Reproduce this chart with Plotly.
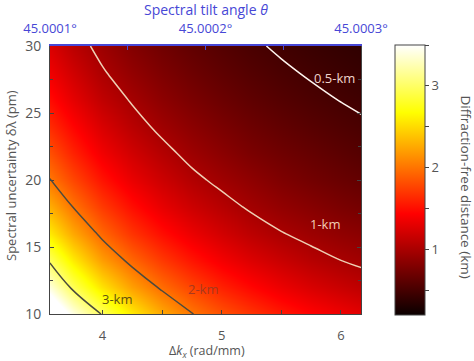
import plotly.graph_objects as go

# Delta k_x (rad/mm) grid positions
dk = [3.56, 3.75, 4.0, 4.25, 4.5, 4.75, 5.0, 5.25, 5.5, 5.75, 6.0, 6.17]
# spectral uncertainty (pm)
dlam = [10, 12, 14, 16, 18, 20, 22, 24, 26, 28, 30]
row10 = [3.84, 3.42, 2.98, 2.58, 2.26, 2.01, 1.83, 1.69, 1.56, 1.45, 1.36, 1.30]
row12 = [3.38, 2.95, 2.54, 2.21, 1.96, 1.76, 1.59, 1.46, 1.34, 1.24, 1.16, 1.11]
row14 = [2.96, 2.58, 2.20, 1.93, 1.71, 1.53, 1.38, 1.26, 1.16, 1.07, 1.00, 0.96]
row16 = [2.58, 2.26, 1.94, 1.69, 1.50, 1.34, 1.21, 1.10, 1.01, 0.94, 0.88, 0.85]
row18 = [2.28, 2.00, 1.72, 1.50, 1.32, 1.18, 1.07, 0.97, 0.89, 0.83, 0.77, 0.74]
row20 = [2.01, 1.78, 1.53, 1.33, 1.18, 1.05, 0.95, 0.87, 0.79, 0.73, 0.68, 0.65]
row22 = [1.82, 1.60, 1.37, 1.20, 1.06, 0.94, 0.85, 0.77, 0.71, 0.66, 0.61, 0.58]
row24 = [1.64, 1.45, 1.24, 1.08, 0.95, 0.85, 0.766, 0.697, 0.639, 0.590, 0.548, 0.523]
row26 = [1.49, 1.31, 1.12, 0.98, 0.86, 0.769, 0.693, 0.630, 0.577, 0.533, 0.495, 0.472]
row28 = [1.36, 1.20, 1.02, 0.89, 0.785, 0.700, 0.630, 0.573, 0.524, 0.484, 0.449, 0.428]
row30 = [1.25, 1.09, 0.94, 0.81, 0.717, 0.639, 0.575, 0.522, 0.478, 0.441, 0.409, 0.390]
dist = [row10, row12, row14, row16, row18, row20, row22, row24, row26, row28, row30]

contour_levels = [3, 2, 1, 0.5]
contour_labels = ["3-km", "2-km", "1-km", "0.5-km"]
label_x = [4.12, 4.84, 5.87, 5.95]
label_y = [11.1, 11.9, 16.7, 27.6]

x_ticks = [4, 5, 6]
y_ticks = [10, 15, 20, 25, 30]
theta_ticks = [45.0001, 45.0002, 45.0003]
theta_text = ["45.0001°", "45.0002°", "45.0003°"]

FONT = "Open Sans"
GREY = "#555555"
AX = "#444444"
BLUE = "#4747d6"

FW, FH = 474, 361
# plot-area box in pixels
L, R, T, B = 50, 361, 46, 314
W, H = R - L, B - T
def px(x):
    return (x - L) / W
def py(y):
    return (B - y) / H

hot = [[0, "rgb(10,0,0)"], [0.375, "rgb(255,0,0)"], [0.75, "rgb(255,255,0)"], [1, "rgb(255,255,255)"]]

fig = go.Figure()
fig.add_trace(go.Heatmap(
    x=dk, y=dlam, z=dist, colorscale=hot, zmin=0.2, zmax=3.5, zsmooth="best",
    colorbar=dict(
        x=px(395.5), xanchor="left", xpad=0, ypad=0,
        y=0.5, yanchor="middle", len=270, lenmode="pixels",
        thickness=30, thicknessmode="pixels",
        outlinecolor=AX, outlinewidth=1,
        ticks="outside", ticklen=4, tickcolor=AX,
        tick0=1, dtick=0.5, ticklabelstep=2, tickformat="d",
        tickfont=dict(family=FONT, size=13, color=GREY),
    ),
))

line_colors = ["#4a4a3c", "#4d4a3e", "#efcfb4", "#fff4ee"]
for lev, col in zip(contour_levels, line_colors):
    fig.add_trace(go.Contour(
        x=dk, y=dlam, z=dist, showscale=False, hoverinfo="skip",
        contours=dict(coloring="none", start=lev, end=lev, size=1),
        line=dict(color=col, width=1.5, smoothing=1.0),
    ))

label_colors = ["#5e5012", "#a8381e", "#f3cdb6", "#f0d4cc"]
for t, lx, ly, c in zip(contour_labels, label_x, label_y, label_colors):
    fig.add_annotation(x=lx, y=ly, text=t, showarrow=False,
                       xanchor="center", yanchor="middle",
                       font=dict(family=FONT, size=13, color=c))

def title(x, y, text, size, color, angle=0):
    fig.add_annotation(xref="paper", yref="paper", x=px(x), y=py(y), textangle=angle,
                       text=text, showarrow=False, xanchor="center", yanchor="middle",
                       font=dict(family=FONT, size=size, color=color))

title(207, 351, "Δ<i>k</i><sub><i>x</i></sub> (rad/mm)", 12.5, GREY)
title(11, 176, "Spectral uncertainty δλ (pm)", 13, GREY, -90)
title(205.5, 9, "Spectral tilt angle <i>θ</i>", 14, BLUE)
title(466, 186.5, "Diffraction-free distance (km)", 13.5, GREY, 90)

# top axis (spectral tilt angle)
fig.add_trace(go.Scatter(x=[], y=[], xaxis="x2", yaxis="y", showlegend=False))

fig.update_layout(
    width=FW, height=FH,
    margin=dict(l=L, r=FW - R, t=T, b=FH - B, autoexpand=False),
    paper_bgcolor="white", plot_bgcolor="white",
    font=dict(family=FONT, size=13, color=GREY),
    showlegend=False,
    xaxis=dict(
        range=[3.561, 6.168], tickvals=x_ticks, ticks="inside", ticklen=4,
        tickcolor=AX, showline=True, linecolor=AX, linewidth=1,
        minor=dict(ticks="inside", dtick=0.5, tick0=4, ticklen=4, tickcolor=AX),
        showgrid=False, zeroline=False, ticklabelstandoff=9, automargin=False,
        tickfont=dict(family=FONT, size=13, color=GREY),
    ),
    xaxis2=dict(
        overlaying="x", side="top", anchor="y", automargin=False,
        range=[45.0001 - 1e-9, 45.0003 + 1e-9], tickvals=theta_ticks, ticktext=theta_text,
        ticks="inside", ticklen=4, tickcolor=BLUE, showline=True, linecolor=BLUE, linewidth=1.5,
        minor=dict(ticks="inside", dtick=0.00005, tick0=45.0001, ticklen=4, tickcolor=BLUE),
        showgrid=False, zeroline=False, ticklabelstandoff=6,
        tickfont=dict(family=FONT, size=13, color=BLUE),
    ),
    yaxis=dict(
        range=[10, 30], tickvals=y_ticks, ticks="inside", ticklen=4,
        tickcolor=AX, showline=True, linecolor=AX, linewidth=1,
        mirror="ticks", automargin=False,
        minor=dict(ticks="inside", dtick=2.5, tick0=10, ticklen=3, tickcolor=AX),
        showgrid=False, zeroline=False, ticklabelstandoff=5,
        tickfont=dict(family=FONT, size=14, color=GREY),
    ),
)

fig.write_html("out.html", config={"displayModeBar": False},
               post_script="document.body.style.margin='0px';")
